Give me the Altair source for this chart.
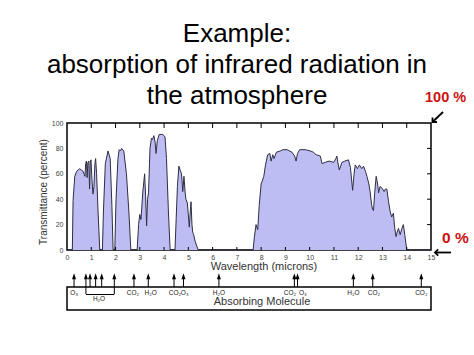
import altair as alt
import pandas as pd

# ---- transmittance curve ----
wavelength = [0.00, 0.22, 0.25, 0.32, 0.40, 0.52, 0.66, 0.74, 0.77, 0.80, 0.83, 0.86, 0.90, 0.93, 0.96,
              0.99, 1.03, 1.07, 1.11, 1.15, 1.18, 1.22, 1.28, 1.35, 1.46, 1.50, 1.58, 1.69, 1.78, 1.85,
              1.90, 1.97, 2.02, 2.10, 2.15, 2.20, 2.25, 2.34, 2.45, 2.55, 2.63, 2.89, 2.95, 3.00, 3.05,
              3.12, 3.20, 3.24, 3.28, 3.32, 3.36, 3.42, 3.48, 3.52, 3.58, 3.63, 3.67, 3.72, 3.80, 3.95,
              4.04, 4.10, 4.18, 4.25, 4.45, 4.50, 4.55, 4.61, 4.66, 4.72, 4.77, 4.82, 4.87, 4.90, 4.96,
              5.04, 5.08, 5.11, 5.15, 5.18, 5.22, 5.28, 5.35, 5.41, 7.67, 7.72, 7.79, 7.86, 7.92, 8.00,
              8.04, 8.11, 8.18, 8.27, 8.36, 8.41, 8.48, 8.53, 8.63, 8.79, 8.90, 9.07, 9.27, 9.38, 9.44,
              9.50, 9.59, 9.82, 10.03, 10.15, 10.27, 10.44, 10.51, 10.64, 10.80, 10.99, 11.08, 11.12, 11.18, 11.22,
              11.33, 11.45, 11.60, 11.68, 11.77, 11.83, 11.88, 11.97, 12.05, 12.15, 12.22, 12.30, 12.36, 12.44, 12.49,
              12.55, 12.59, 12.63, 12.68, 12.74, 12.80, 12.84, 12.90, 12.97, 13.07, 13.12, 13.18, 13.25, 13.32, 13.38,
              13.45, 13.50, 13.56, 13.62, 13.66, 13.73, 13.80, 13.86, 13.92, 14.00, 15.00]
transmittance = [0, 0, 39, 58, 62, 64, 62, 58, 68, 70, 57, 69, 70, 48, 70,
                 71, 55, 44, 50, 68, 72, 60, 30, 0, 0, 30, 68, 78, 72, 35,
                 0, 0, 40, 72, 79, 78, 80, 78, 60, 30, 0, 0, 20, 28, 24,
                 45, 60, 42, 19, 40, 45, 80, 88, 87, 90, 85, 76, 86, 91, 91,
                 89, 72, 30, 0, 0, 25, 50, 66, 63, 60, 46, 58, 45, 40, 37,
                 18, 30, 38, 20, 14, 12, 7, 3, 0, 0, 10, 20, 16, 35, 52,
                 54, 58, 67, 75, 76, 70, 75, 72, 77, 78, 79, 79, 77, 74, 70,
                 76, 79, 79, 78, 77, 75, 74, 68, 69, 70, 69, 72, 74, 67, 63,
                 69, 70, 71, 65, 47, 60, 67, 64, 67, 64, 66, 62, 58, 52, 46,
                 36, 32, 31, 45, 58, 52, 45, 50, 49, 46, 48, 48, 38, 30, 26,
                 29, 18, 10.5, 15, 17, 12, 17, 20, 12, 0, 0]

# ---- absorbing molecules ----
mol_wl = [0.29, 0.78, 0.95, 1.18, 1.43, 1.95, 2.76, 3.35, 4.41, 4.80, 6.26, 9.37, 9.50, 11.80, 12.60, 14.60]
label_wl = [0.29, 2.72, 3.45, 4.45, 4.85, 6.26, 9.19, 9.72, 11.80, 12.65, 14.60]
label_text = ["O₃", "CO₂", "H₂O", "CO₂", "O₃", "H₂O", "CO₂", "O₃", "H₂O", "CO₂", "CO₂"]
brace_wl = [0.78, 1.95]
brace_label_wl = [1.32]
brace_label = ["H₂O"]

x_ticks = list(range(0, 16))
y_ticks = [0, 20, 40, 60, 80, 100]

FONT = "Liberation Sans"
W, H = 364, 127

xs = alt.Scale(domain=[0, 15], nice=False, zero=False)
ys = alt.Scale(domain=[0, 100], nice=False, zero=False)
ax_x = alt.Axis(values=x_ticks, labelFontSize=7, labelColor="#444", labelFont=FONT, ticks=False,
                domain=False, grid=False, title=None, labelPadding=3, labelFlush=False,
                labelOverlap=False)
ax_y = alt.Axis(values=y_ticks, labelFontSize=7, labelColor="#444", labelFont=FONT, ticks=False,
                domain=False, grid=False, title=None, labelPadding=4, labelFlush=False,
                labelOverlap=False)


def X(f):
    return alt.X(f, scale=xs, axis=ax_x)


def Y(f):
    return alt.Y(f, scale=ys, axis=ax_y)


curve = pd.DataFrame({"w": wavelength, "t": transmittance})
one = pd.DataFrame({"a": [0]})

area = alt.Chart(curve).mark_area(color="#bdbdf3", opacity=1).encode(x=X("w:Q"), y=Y("t:Q"))
line = alt.Chart(curve).mark_line(color="#2e2e44", strokeWidth=1).encode(x=X("w:Q"), y=Y("t:Q"))

xt = pd.DataFrame({"v": x_ticks[1:-1]})
yt = pd.DataFrame({"v": y_ticks[1:-1]})
top_ticks = alt.Chart(xt).mark_rule(color="black", strokeWidth=1).encode(
    x=X("v:Q"), y=alt.value(0), y2=alt.value(5))
bot_ticks = alt.Chart(xt).mark_rule(color="black", strokeWidth=1).encode(
    x=X("v:Q"), y=alt.value(H), y2=alt.value(H - 3))
right_ticks = alt.Chart(yt).mark_rule(color="black", strokeWidth=1).encode(
    y=Y("v:Q"), x=alt.value(W), x2=alt.value(W - 4))

title = alt.Chart(one).mark_text(
    text="Example:\nabsorption of infrared radiation in\nthe atmosphere", lineBreak="\n",
    lineHeight=31, font=FONT, fontSize=26, align="center", baseline="alphabetic", color="black"
).encode(x=alt.value(170), y=alt.value(-81))

xtitle = alt.Chart(one).mark_text(text="Wavelength (microns)", font=FONT, fontSize=11,
                                  color="#333", align="center", baseline="middle").encode(
    x=alt.value(197), y=alt.value(144))
ytitle = alt.Chart(one).mark_text(text="Transmittance (percent)", font=FONT, fontSize=10,
                                  color="#333", align="center", baseline="middle", angle=270).encode(
    x=alt.value(-23), y=alt.value(69))

pct100 = alt.Chart(one).mark_text(text="100 %", font=FONT, fontSize=14.5, fontWeight="bold",
                                  color="#cc1111", align="left", baseline="alphabetic").encode(
    x=alt.value(358), y=alt.value(-21))
pct0 = alt.Chart(one).mark_text(text="0 %", font=FONT, fontSize=15.5, fontWeight="bold",
                                color="#cc1111", align="left", baseline="alphabetic").encode(
    x=alt.value(375), y=alt.value(120))

arr1 = alt.Chart(one).mark_rule(color="black", strokeWidth=1.8).encode(
    x=alt.value(366), y=alt.value(-1.5), x2=alt.value(376), y2=alt.value(-11))
arr1h = alt.Chart(one).mark_point(shape="M1,-1L0,0L1,1", filled=False, color="black",
                                  strokeWidth=1.8, size=40, angle=315, opacity=1).encode(
    x=alt.value(365.5), y=alt.value(-1))
arr2 = alt.Chart(one).mark_rule(color="black", strokeWidth=1.8).encode(
    x=alt.value(369), y=alt.value(129.5), x2=alt.value(384), y2=alt.value(129.5))
arr2h = alt.Chart(one).mark_point(shape="M1,-1L0,0L1,1", filled=False, color="black",
                                  strokeWidth=1.8, size=40, opacity=1).encode(
    x=alt.value(368), y=alt.value(129.5))

# bottom panel
box = alt.Chart(one).mark_rect(fill="white", stroke="black", strokeWidth=1.5).encode(
    x=alt.value(0), x2=alt.value(W), y=alt.value(164), y2=alt.value(187))
mol = pd.DataFrame({"w": mol_wl})
shafts = alt.Chart(mol).mark_rule(color="black", strokeWidth=1).encode(
    x=X("w:Q"), y=alt.value(153), y2=alt.value(164))
heads = alt.Chart(mol).mark_point(shape="M0,-1.3L0.6,0.5L-0.6,0.5Z", filled=True, color="black",
                                  size=45, opacity=1).encode(x=X("w:Q"), y=alt.value(154.5))
labs = alt.Chart(pd.DataFrame({"w": label_wl, "s": label_text})).mark_text(
    font=FONT, fontSize=6.5, color="#222", align="center", baseline="middle").encode(
    x=X("w:Q"), y=alt.value(170), text="s:N")
bd = pd.DataFrame({"w": brace_wl})
brace_v = alt.Chart(bd).mark_rule(color="black", strokeWidth=1).encode(
    x=X("w:Q"), y=alt.value(164), y2=alt.value(171))
brace_h = alt.Chart(pd.DataFrame({"a": [brace_wl[0]], "b": [brace_wl[1]]})).mark_rule(
    color="black", strokeWidth=1).encode(x=X("a:Q"), x2="b:Q", y=alt.value(171.5))
brace_lab = alt.Chart(pd.DataFrame({"w": brace_label_wl, "s": brace_label})).mark_text(
    font=FONT, fontSize=6.5, color="#222", align="center", baseline="middle").encode(
    x=X("w:Q"), y=alt.value(176), text="s:N")
absorb = alt.Chart(one).mark_text(text="Absorbing Molecule", font=FONT, fontSize=11, color="#333",
                                  align="center", baseline="middle").encode(
    x=alt.value(195), y=alt.value(179))

chart = alt.layer(
    area, line, top_ticks, bot_ticks, right_ticks, title, xtitle, ytitle, pct100, pct0,
    arr1, arr1h, arr2, arr2h, box, shafts, heads, brace_v, brace_h, labs, brace_lab, absorb
).properties(
    width=W, height=H, autosize="none",
    padding={"left": 67, "top": 123, "right": 43, "bottom": 105},
    background="white",
).configure_view(stroke="black", strokeWidth=1.5).configure_axis(
    labelOverlap=False, labelFlush=False)

chart.save("out.html", embed_options={"renderer": "svg", "actions": False})
